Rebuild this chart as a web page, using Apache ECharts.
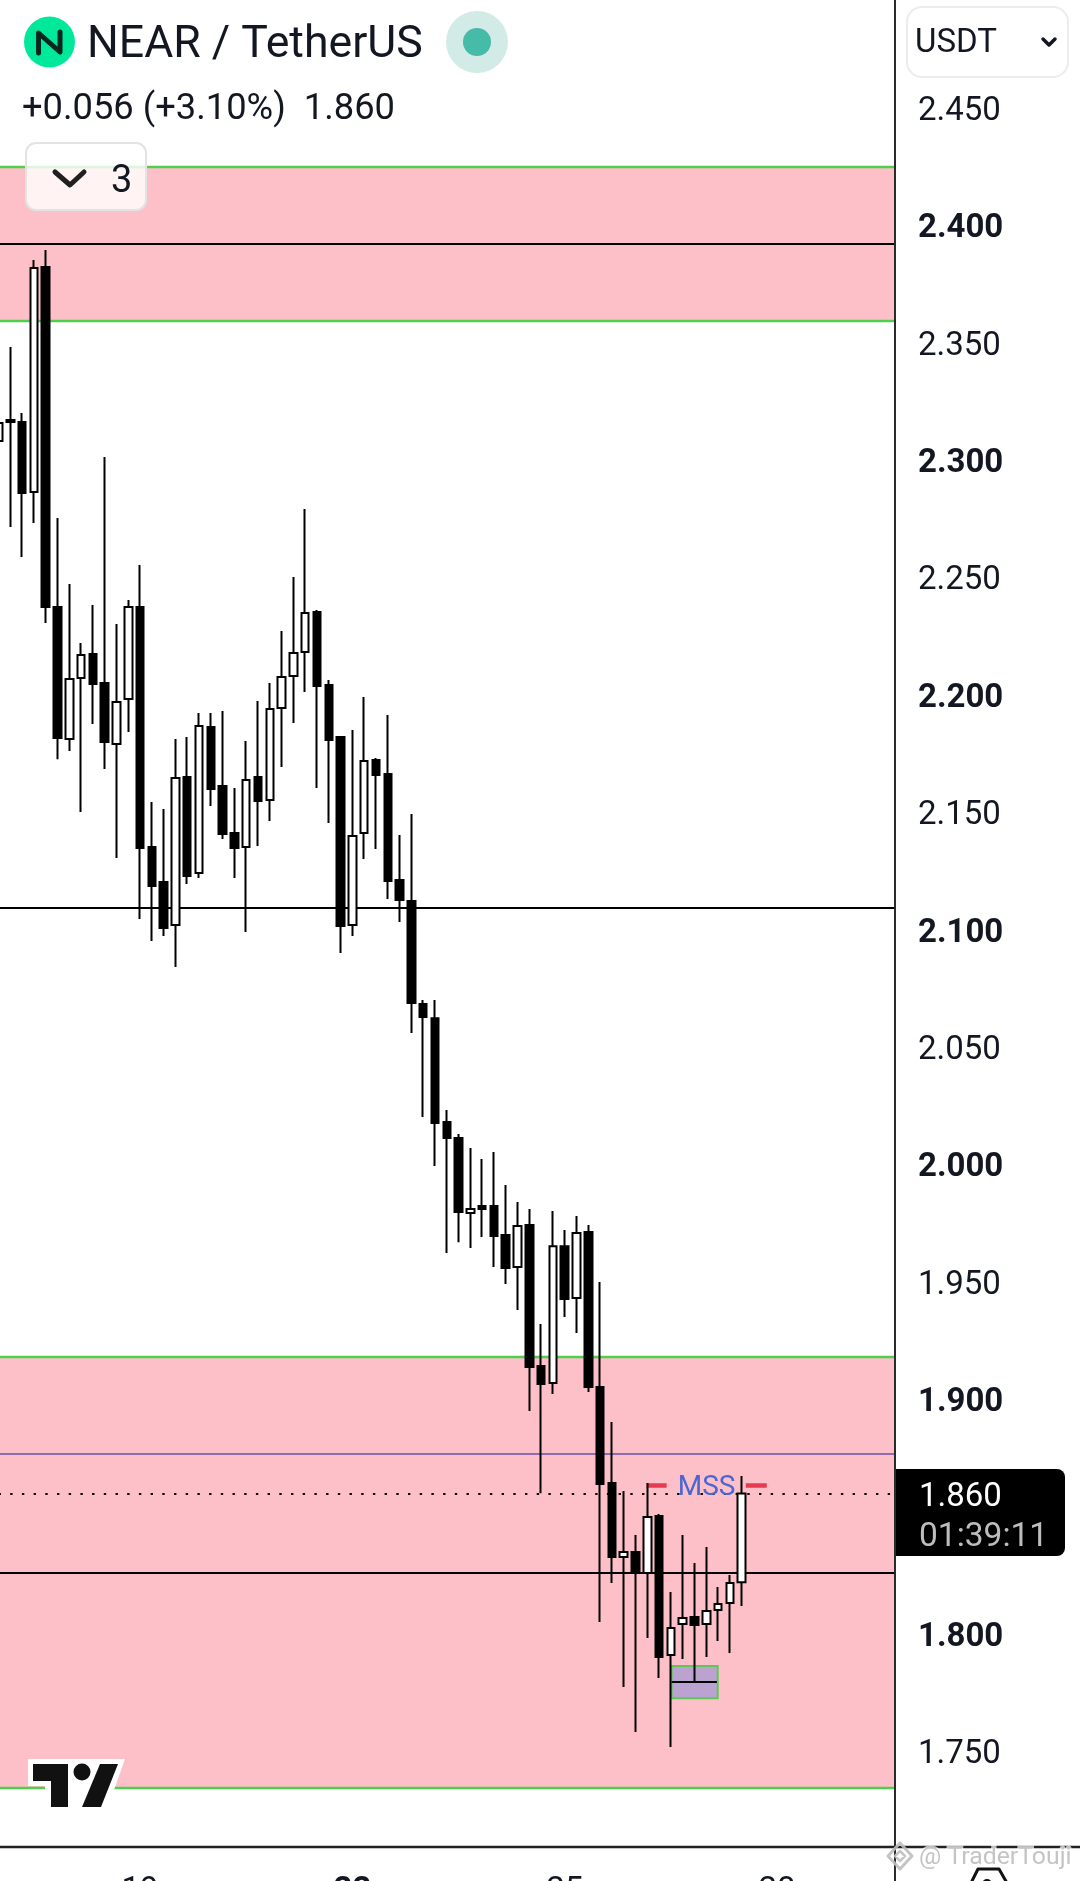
<!DOCTYPE html>
<html>
<head>
<meta charset="utf-8">
<style>html,body{margin:0;padding:0;background:#fff;overflow:hidden}#c{width:1080px;height:1881px}</style>
<script src="https://cdn.jsdelivr.net/npm/echarts@6/dist/echarts.min.js"></script>
</head>
<body>
<div id="c"></div>
<script>
const opens = [2.3082,2.3171,2.3163,2.2865,2.3823,2.2375,2.1813,2.2073,2.2175,2.2051,2.1791,2.1983,2.2375,2.1353,2.1204,2.1021,
  2.1651,2.1242,2.1864,2.1613,2.1412,2.1353,2.1651,2.1553,2.1945,2.2081,2.2183,2.2354,2.2043,2.1821,2.1021,2.1412,
  2.1723,2.1664,2.1212,2.1123,2.0684,2.0624,2.0182,2.0113,1.9794,1.9824,1.9824,1.9700,1.9564,1.9743,1.9142,1.9070,
  1.9653,1.9432,1.9713,1.9053,1.8644,1.8329,1.8350,1.8261,1.8504,1.7912,1.8044,1.8073,1.8044,1.8103,1.8133,1.8222];
const closes = [2.3158,2.3163,2.2860,2.3819,2.2375,2.1817,2.2068,2.2170,2.2047,2.1800,2.1970,2.2375,2.1349,2.1187,2.1008,2.1647,
  2.1229,2.1868,2.1600,2.1408,2.1349,2.1638,2.1549,2.1940,2.2077,2.2179,2.2349,2.2038,2.1808,2.1016,2.1400,2.1719,
  2.1659,2.1208,2.1127,2.0688,2.0629,2.0177,2.0113,1.9798,1.9811,1.9811,1.9696,1.9560,1.9739,1.9138,1.9066,1.9653,
  1.9428,1.9709,1.9053,1.8640,1.8329,1.8350,1.8261,1.8499,1.7903,1.8027,1.8069,1.8039,1.8099,1.8129,1.8218,1.8600];
const lows = [2.3035,2.2716,2.2588,2.2733,2.2307,2.1727,2.1762,2.1502,2.1877,2.1685,2.1306,2.1843,2.1046,2.0952,2.0974,2.0842,
  2.1195,2.1221,2.1527,2.1387,2.1221,2.0991,2.1357,2.1463,2.1693,2.1881,2.2013,2.1604,2.1455,2.0901,2.0974,2.1302,
  2.1344,2.1131,2.1033,2.0561,2.0203,1.9994,1.9624,1.9670,1.9645,1.9692,1.9564,1.9492,1.9381,1.8951,1.8601,1.9023,
  1.9351,1.9283,1.9032,1.8052,1.8218,1.7775,1.7584,1.7984,1.7814,1.7520,1.7895,1.7797,1.7903,1.7971,1.7920,1.8120];
const highs = [2.3601,2.3482,2.3201,2.3853,2.3895,2.2754,2.2473,2.2222,2.2383,2.3014,2.2302,2.2405,2.2554,2.1544,2.1515,2.1813,
  2.1821,2.1923,2.1923,2.1932,2.1604,2.1804,2.1975,2.2051,2.2273,2.2503,2.2792,2.2362,2.2064,2.1821,2.1851,2.1992,
  2.1732,2.1915,2.1404,2.1493,2.0701,2.0701,2.0233,2.0130,2.0071,2.0024,2.0054,1.9913,1.9841,1.9811,1.9321,1.9803,
  1.9722,1.9781,1.9743,1.9500,1.8904,1.8610,1.8423,1.8644,1.8512,1.8180,1.8423,1.8303,1.8372,1.8201,1.8252,1.8674];

const xTickIndex = [12,30,48,66];
const xTickLabels = ['19','22','25','28'];
const boldXLabel = '22';
const yTicks = [1.75,1.80,1.85,1.90,1.95,2.00,2.05,2.10,2.15,2.20,2.25,2.30,2.35,2.40,2.45];
const yMin = 1.7094, yMax = 2.496;
const barSlots = 76;

const zones = [[2.4249,2.3594],[1.9181,1.7345]];
const blackLevels = [2.3923,2.1094,1.8261];
const blueLevel = 1.8768;
const lastPrice = 1.860;
const fvgBox = {from:57.06,to:60.97,top:1.7865,bottom:1.7728,mid:1.7796,midTo:60.9};
const mss = {price:1.8635,left:[54.94,56.64],right:[63.35,65.13],labelAt:60.03};

const categories = Array.from({length:barSlots+1},(_,i)=>{
  let idx = xTickIndex[0], lab = Number(xTickLabels[0]);
  const d = lab + Math.floor((i-idx)/6);
  const h = ((i-idx)%6+6)%6*4;
  return d+' '+String(h).padStart(2,'0')+':00';
});
const candles = opens.map((o,i)=>[o,closes[i],lows[i],highs[i]]);

const FONT = 'Roboto, "Noto Sans", sans-serif';
const T = (text,x,y,size,fill,extra)=>({type:'text',z:100,silent:true,style:Object.assign({text,x,y,fill,font:`${size}px ${FONT}`,verticalAlign:'middle',textAlign:'left'},extra||{})});
const G = (points,stroke,w,extra)=>({type:'polyline',z:100,silent:true,shape:{points},style:Object.assign({stroke,lineWidth:w,fill:null,lineCap:'round',lineJoin:'round'},extra||{})});

const hline = (p,color,width,type)=>[{coord:[0,p],lineStyle:{color,width,type:type||'solid'}},{coord:[barSlots,p]}];
const lineData = [];
zones.forEach(z=>z.forEach(p=>lineData.push(hline(p,'#4fd04a',2.4))));
blackLevels.forEach(p=>lineData.push(hline(p,'#000',2)));
lineData.push(hline(blueLevel,'#6a4fa8',1.6));
lineData.push(hline(lastPrice,'#000',2,[2.4,9.3]));
lineData.push([{coord:[fvgBox.from,fvgBox.mid],lineStyle:{color:'#000',width:2,type:'solid'}},{coord:[fvgBox.midTo,fvgBox.mid]}]);
[mss.left,mss.right].forEach(s=>lineData.push([{coord:[s[0],mss.price],lineStyle:{color:'#e43b52',width:4.5,type:'solid'}},{coord:[s[1],mss.price]}]));

const areaData = zones.map(z=>[{coord:[0,z[0]],itemStyle:{color:'#fec0c8'}},{coord:[barSlots,z[1]]}]);
areaData.push([{coord:[fvgBox.from,fvgBox.top],itemStyle:{color:'#bca2d0',borderColor:'#5cc855',borderWidth:2}},{coord:[fvgBox.to,fvgBox.bottom]}]);

const chart = echarts.init(document.getElementById('c'),null,{renderer:'canvas',width:1080,height:1881});
chart.setOption({
  animation:false,
  backgroundColor:'#fff',
  textStyle:{fontFamily:FONT},
  grid:{left:-1.5,top:0,width:896.5,height:1847,containLabel:false,outerBoundsMode:'none',show:false},
  xAxis:[{
    type:'category',data:categories,boundaryGap:false,
    axisLine:{show:false},axisTick:{show:false},splitLine:{show:false},
    axisLabel:{
      show:true,margin:28,color:'#131722',fontSize:33,fontFamily:FONT,
      interval:(i)=>xTickIndex.includes(i),
      formatter:(v)=>{const s=v.split(' ')[0];return s===boldXLabel?'{b|'+s+'}':s;},
      rich:{b:{fontWeight:'bold',fontSize:33,color:'#131722',fontFamily:FONT}}
    }
  },{type:'value',min:0,max:barSlots,show:false}],
  yAxis:{
    type:'value',position:'right',min:yMin,max:yMax,scale:true,
    axisLine:{show:false},axisTick:{show:false},splitLine:{show:false},
    axisLabel:{
      show:true,margin:23,color:'#131722',fontSize:33,fontFamily:FONT,align:'left',
      padding:[7,0,0,0],
      customValues:yTicks,
      formatter:(v)=>{const s=v.toFixed(3);return Math.round(v*1000)%100===0?'{b|'+s+'}':s;},
      rich:{b:{fontWeight:'bold',fontSize:33,color:'#131722',fontFamily:FONT}}
    }
  },
  series:[
    {
      type:'line',xAxisIndex:1,yAxisIndex:0,data:[],z:1,silent:true,
      markArea:{silent:true,z:0,data:areaData},
      markLine:{silent:true,z:1,symbol:'none',label:{show:false},data:lineData,animation:false},
      markPoint:{silent:true,z:1,symbol:'circle',symbolSize:0,data:[{coord:[mss.labelAt,mss.price],
        label:{show:true,position:'inside',offset:[0,3],formatter:'MSS',color:'#4a66d4',fontSize:28,fontFamily:FONT}}]}
    },
    {
      type:'candlestick',xAxisIndex:0,yAxisIndex:0,data:candles,z:3,barWidth:8,silent:true,
      itemStyle:{color:'#fff',color0:'#000',borderColor:'#000',borderColor0:'#000',borderWidth:2}
    }
  ],
  graphic:{elements:[
    // frame
    {type:'line',z:90,silent:true,shape:{x1:895,y1:0,x2:895,y2:1881},style:{stroke:'#2b2b2b',lineWidth:2}},
    {type:'line',z:90,silent:true,shape:{x1:0,y1:1847,x2:1080,y2:1847},style:{stroke:'#222',lineWidth:2.5}},
    // header
    {type:'circle',z:100,silent:true,shape:{cx:49.5,cy:42,r:25.5},style:{fill:'#00e899'}},
    G([[38.5,53],[38.5,33],[60,52],[60,32]],'#06281e',5),
    T('NEAR / TetherUS',87,46,44.6,'#131722'),
    {type:'circle',z:100,silent:true,shape:{cx:477,cy:42,r:31},style:{fill:'#d2ebe7'}},
    {type:'circle',z:100,silent:true,shape:{cx:477,cy:42,r:14},style:{fill:'#45bba8'}},
    T('+0.056 (+3.10%)  1.860',22,110,36.3,'#131722'),
    // collapse button
    {type:'rect',z:100,silent:true,shape:{x:26,y:143,width:120,height:67,r:10},style:{fill:'rgba(255,255,255,0.8)',stroke:'#e3e3e3',lineWidth:2}},
    G([[55,172],[70,185],[84,172]],'#202020',5),
    T('3',111,182,38,'#131722'),
    // currency button
    {type:'rect',z:100,silent:true,shape:{x:907,y:7,width:161,height:70,r:15},style:{fill:'#fff',stroke:'#ececec',lineWidth:2}},
    T('USDT',915,44,33,'#131722'),
    G([[1043,39],[1049,45],[1055,39]],'#131722',3.5),
    // last price tag
    {type:'rect',z:100,silent:true,shape:{x:896,y:1469,width:169,height:87,r:[0,8,8,0]},style:{fill:'#000'}},
    T('1.860',919,1498,33,'#fff'),
    T('01:39:11',919,1538,33.5,'#bdbdbd'),
    // logo
    {type:'polygon',z:100,silent:true,shape:{points:[[28,1759],[125,1759],[114,1790],[45,1790],[45,1786],[28,1786]]},style:{fill:'#fff'}},
    {type:'polygon',z:101,silent:true,shape:{points:[[33,1764],[68,1764],[68,1807],[51,1807],[51,1781],[33,1781]]},style:{fill:'#111'}},
    {type:'circle',z:101,silent:true,shape:{cx:82,cy:1772,r:8.5},style:{fill:'#111'}},
    {type:'polygon',z:101,silent:true,shape:{points:[[100,1764],[118,1764],[101,1807],[82,1807]]},style:{fill:'#111'}},
    // bottom icon
    G([[971,1883],[978,1869],[999,1869],[1007,1883]],'#111',3),
    {type:'circle',z:100,silent:true,shape:{cx:987,cy:1884,r:5},style:{fill:'#111'}},
    // watermark
    G([[900,1843],[912,1856],[900,1869],[888,1856],[900,1843]],'rgba(190,190,190,0.9)',3),
    G([[900,1851],[905,1856],[900,1861],[895,1856],[900,1851]],'rgba(190,190,190,0.9)',2.5),
    T('@ TraderTouji',919,1858,24.8,'#c4c4c4',{stroke:'rgba(255,255,255,0.7)',lineWidth:3})
  ]}
});
</script>
</body>
</html>
